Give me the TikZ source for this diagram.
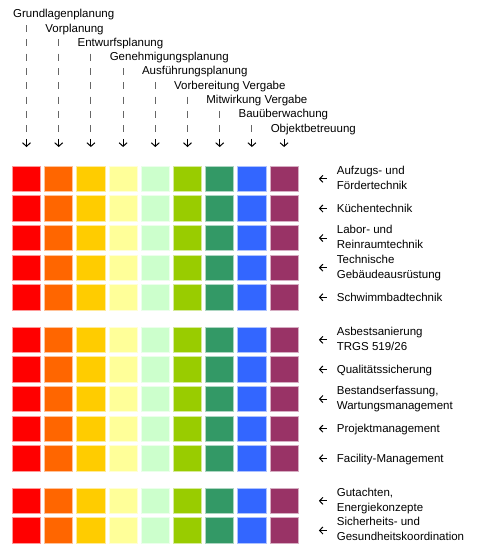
\documentclass[tikz,border=0pt]{standalone}
\usepackage{fontspec}
\setmainfont{Liberation Sans}
\usetikzlibrary{arrows.meta}
\definecolor{k0}{HTML}{FF0000}
\definecolor{k1}{HTML}{FF6600}
\definecolor{k2}{HTML}{FFCC00}
\definecolor{k3}{HTML}{FFFF99}
\definecolor{k4}{HTML}{CCFFCC}
\definecolor{k5}{HTML}{99CC00}
\definecolor{k6}{HTML}{339966}
\definecolor{k7}{HTML}{3366FF}
\definecolor{k8}{HTML}{993366}
\begin{document}
\begin{tikzpicture}[x=1pt,y=-1pt,font=\fontsize{11.5}{15}\selectfont]
\tikzset{
  sq/.style={draw=#1!40!white, line width=0.8pt, fill=#1, minimum width=28.2pt, minimum height=25.5pt, inner sep=0pt, outer sep=0pt},
  phase/.style={anchor=base west, inner sep=0pt},
  lab/.style={anchor=west, inner sep=0pt, align=left, execute at begin node=\strut, execute at end node=\strut},
  pipe/.style={draw=black!60, line width=1pt, dash pattern=on 7pt off 7.3pt},
  darr/.style={draw=black, line width=1pt, -{Straight Barb[length=3.6pt,width=8pt]}},
  larr/.style={draw=black, line width=1pt, -{Straight Barb[length=3.3pt,width=7pt]}}
}
\fill[white] (0,0) rectangle (482,552);
\useasboundingbox (0,0) rectangle (482,552);

% phase labels
\foreach \i/\t in {0/Grundlagenplanung,1/Vorplanung,2/Entwurfsplanung,3/Genehmigungsplanung,4/Ausführungsplanung,5/Vorbereitung Vergabe,6/Mitwirkung Vergabe,7/Bauüberwachung,8/Objektbetreuung}{
  \node[phase] (P\i) at ({13+32.2*\i},{17.7+14.3*\i}) {\t};
  \coordinate (at\i) at ({26.5+32.2*\i},138.8);
  \coordinate (ab\i) at ({26.5+32.2*\i},147.0);
  \draw[darr] (at\i) -- (ab\i);
}
\foreach \i in {0,...,7}{
  \coordinate (pt\i) at ({26.5+32.2*\i},{14.3+14.3*(\i+1)-3.5});
  \coordinate (pb\i) at ({26.5+32.2*\i},132.2);
  \draw[pipe] (pt\i) -- (pb\i);
}

% squares
\foreach \g/\top/\n in {1/165.7/4,2/326.7/4,3/487.7/1}{
  \foreach \r in {0,...,\n}{
    \foreach \c in {0,...,8}{
      \node[sq=k\c] (s\g-\r-\c) at ({26.5+32.2*\c},{\top+13.15+29.6*\r}) {};
    }
  }
}

% right labels
\node[lab] (A1) at (336.7,179.95) {Aufzugs- und\\Fördertechnik};
\node[lab] (A2) at (336.7,209.55) {Küchentechnik};
\node[lab] (A3) at (336.7,239.15) {Labor- und\\Reinraumtechnik};
\node[lab] (A4) at (336.7,268.75) {Technische\\Gebäudeausrüstung};
\node[lab] (A5) at (336.7,298.35) {Schwimmbadtechnik};
\node[lab] (B1) at (336.7,340.95) {Asbestsanierung\\TRGS 519/26};
\node[lab] (B2) at (336.7,370.55) {Qualitätssicherung};
\node[lab] (B3) at (336.7,400.15) {Bestandserfassung,\\Wartungsmanagement};
\node[lab] (B4) at (336.7,429.75) {Projektmanagement};
\node[lab] (B5) at (336.7,459.35) {Facility-Management};
\node[lab] (C1) at (336.7,501.95) {Gutachten,\\Energiekonzepte};
\node[lab] (C2) at (336.7,531.55) {Sicherheits- und\\Gesundheitskoordination};

\foreach \L in {A1,A2,A3,A4,A5,B1,B2,B3,B4,B5,C1,C2}{
  \draw[larr] ([xshift=-10.2pt,yshift=1.1pt]\L.west) -- ([xshift=-17.8pt,yshift=1.1pt]\L.west);
}
\end{tikzpicture}
\end{document}
